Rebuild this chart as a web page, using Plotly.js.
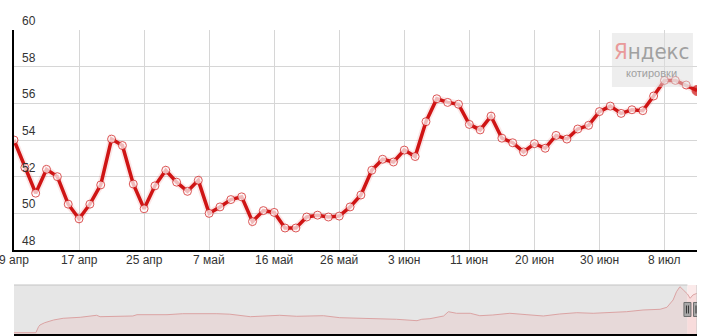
<!DOCTYPE html>
<html>
<head>
<meta charset="utf-8">
<script src="https://cdn.plot.ly/plotly-3.0.1.min.js"></script>
<style>html,body{margin:0;padding:0;background:#fff;}#chart{width:707px;height:336px;}</style>
</head>
<body>
<div id="chart"></div>
<script>
// Price series (trading days, 9 Apr .. ~11 Jul)
const prices = [54.0, 52.5, 51.1, 52.4, 52.0, 50.5, 49.7, 50.5, 51.55, 54.05,
  53.7, 51.6, 50.25, 51.5, 52.35, 51.7, 51.2, 51.8, 50.0, 50.35,
  50.75, 50.9, 49.55, 50.15, 50.05, 49.2, 49.2, 49.8, 49.9, 49.8,
  49.85, 50.35, 51.0, 52.35, 52.95, 52.8, 53.45, 53.1, 55.0, 56.25,
  56.05, 55.95, 54.85, 54.55, 55.3, 54.1, 53.85, 53.35, 53.8, 53.55,
  54.25, 54.05, 54.6, 54.8, 55.55, 55.85, 55.45, 55.65, 55.6, 56.4,
  57.25, 57.25, 57.0, 56.7];
// x-axis tick labels (every 6th trading day)
const tickIndex = [0, 6, 12, 18, 24, 30, 36, 42, 48, 54, 60];
const tickLabels = ['9 апр', '17 апр', '25 апр', '7 май', '16 май', '26 май',
  '3 июн', '11 июн', '20 июн', '30 июн', '8 июл'];
const yTicks = [48, 50, 52, 54, 56, 58, 60];

// Navigator: whole history (position in % of history, relative level)
const navPos = [0, 3.2, 3.6, 3.8, 4.5, 5.8, 7.2, 9.7, 12.1, 12.6, 17.4, 18.0, 22.4,
  24.7, 29.7, 31.6, 34.6, 36.0, 38.9, 41.4, 45.3, 47.7, 52.1, 56.0, 59.0, 59.7,
  60.9, 62.9, 63.6, 64.8, 66.8, 68.2, 70.1, 72.6, 75.1, 77.5, 79.9, 82.4, 84.8,
  87.3, 89.7, 92.1, 94.6, 95.6, 96.5, 97.0, 97.5, 98.0, 98.6, 99.0, 99.4, 100];
const navLevel = [1.3, 1.3, 7.3, 9, 11.3, 14, 15.7, 16.7, 18.7, 17.3, 18, 19.3, 19.3,
  20.3, 20.3, 19.8, 17.3, 18, 18.7, 17.7, 18.3, 16.3, 15.7, 14.7, 13.3, 14.7,
  15.3, 18, 22.3, 20.7, 20.7, 18.3, 19, 20.7, 19.3, 18, 20, 21.3, 20.7,
  21.3, 22.3, 24, 24.7, 26.7, 34, 42.3, 47.3, 44, 40, 35.7, 39, 40.7];
const navWindow = [98.6, 100];

const idx = prices.map((_, i) => i);
const last = prices.length - 1;
const RED = '#cf1414';
const FONT = 'Liberation Sans, Arial, sans-serif';

const traces = [
  { x: idx, y: prices, mode: 'lines', type: 'scatter',
    line: { color: 'rgba(225,60,60,0.12)', width: 7 }, hoverinfo: 'skip' },
  { x: idx, y: prices, mode: 'lines+markers', type: 'scatter',
    line: { color: RED, width: 3.5 },
    marker: { symbol: 'circle',
      size: prices.map((_, i) => i === last ? 10 : 8),
      color: prices.map((_, i) => i === last ? RED : '#ffffff'),
      line: { color: RED, width: 1 } } },
  { x: navPos, y: navLevel, xaxis: 'x2', yaxis: 'y2', mode: 'lines', type: 'scatter',
    fill: 'tozeroy', fillcolor: 'rgba(235,175,175,0.22)',
    line: { color: '#dba3a3', width: 1 } }
];

const handle = (xc) => [
  { type: 'rect', xref: 'x2', yref: 'y2 domain', xsizemode: 'pixel', ysizemode: 'pixel',
    xanchor: xc, yanchor: 0.5, x0: -3.5, x1: 3.5, y0: -7, y1: 7,
    fillcolor: '#a8a8a8', line: { color: '#6e6e6e', width: 1 } },
  { type: 'line', xref: 'x2', yref: 'y2 domain', xsizemode: 'pixel', ysizemode: 'pixel',
    xanchor: xc, yanchor: 0.5, x0: -1, x1: -1, y0: -4, y1: 4, line: { color: '#333', width: 1 } },
  { type: 'line', xref: 'x2', yref: 'y2 domain', xsizemode: 'pixel', ysizemode: 'pixel',
    xanchor: xc, yanchor: 0.5, x0: 1, x1: 1, y0: -4, y1: 4, line: { color: '#333', width: 1 } }
];

const tickFont = { family: FONT, size: 12, color: '#333' };
const xLabelAnns = tickIndex.map((v, k) => ({
  xref: 'x', yref: 'y', x: v, y: 48, text: tickLabels[k], showarrow: false,
  xanchor: 'center', yanchor: 'top', yshift: -1, font: tickFont }));
const yLabelAnns = yTicks.map(v => ({
  xref: 'paper', yref: 'y', x: 0, y: v, text: String(v), showarrow: false,
  xanchor: 'left', yanchor: 'bottom', xshift: 6, yshift: 0, font: tickFont }));

const layout = {
  width: 707, height: 336,
  margin: { l: 14, r: 10, t: 30, b: 2, pad: 0 },
  paper_bgcolor: '#ffffff', plot_bgcolor: '#ffffff',
  showlegend: false,
  font: { family: FONT, size: 12, color: '#333' },
  xaxis: { domain: [0, 1], anchor: 'y', range: [0, last],
    tickmode: 'array', tickvals: tickIndex.concat([last]),
    showticklabels: false, ticks: '', showgrid: true, gridcolor: '#d6d6d6', gridwidth: 1,
    showline: true, linecolor: '#000', linewidth: 2, zeroline: false },
  yaxis: { domain: [0.2763, 1], anchor: 'x', range: [48, 60],
    tickmode: 'array', tickvals: yTicks, ticks: '', showticklabels: false,
    showgrid: true, gridcolor: '#d6d6d6', gridwidth: 1,
    showline: true, linecolor: '#000', linewidth: 2, zeroline: false },
  xaxis2: { domain: [0, 1], anchor: 'y2', range: [0, 100],
    showgrid: false, showticklabels: false, ticks: '', zeroline: false,
    showline: true, linecolor: '#000', linewidth: 2 },
  yaxis2: { domain: [0, 0.1612], anchor: 'x2', range: [0, 49],
    showgrid: false, showticklabels: false, ticks: '', zeroline: false, showline: false },
  shapes: [
    { type: 'rect', xref: 'x2', yref: 'y2 domain', x0: 0, x1: navWindow[0], y0: 0, y1: 1,
      fillcolor: '#e6e6e6', line: { width: 0 }, layer: 'below' },
    { type: 'rect', xref: 'x2', yref: 'y2 domain', x0: navWindow[0], x1: navWindow[1], y0: 0, y1: 1,
      fillcolor: '#fbeaea', line: { width: 0 }, layer: 'below' },
    { type: 'line', xref: 'x2', yref: 'y2 domain', x0: 0, x1: navWindow[0], y0: 1, y1: 1,
      line: { color: '#c4c4c4', width: 1 } },
    { type: 'line', xref: 'x2', yref: 'y2 domain', x0: navWindow[1], x1: navWindow[1], y0: 0, y1: 1,
      line: { color: '#c4c4c4', width: 1 } },
    { type: 'rect', xref: 'paper', yref: 'paper', x0: 0.8755, x1: 0.994, y0: 0.8125, y1: 0.99,
      fillcolor: 'rgba(222,222,222,0.5)', line: { width: 0 } }
  ].concat(handle(navWindow[0])).concat(handle(navWindow[1])),
  annotations: xLabelAnns.concat(yLabelAnns).concat([
    { xref: 'paper', yref: 'paper', x: 0.9337, y: 0.9286, showarrow: false,
      xanchor: 'center', yanchor: 'middle',
      text: '<span style="color:#e99a9a">Я</span>ндекс',
      font: { family: 'Liberation Sans Narrow, DejaVu Sans Condensed, Arial Narrow, sans-serif', size: 22, color: '#a0a0a0' } },
    { xref: 'paper', yref: 'paper', x: 0.9337, y: 0.857, showarrow: false,
      xanchor: 'center', yanchor: 'middle',
      text: 'котировки',
      font: { family: FONT, size: 11, color: '#a0a0a0' } }
  ])
};

Plotly.newPlot('chart', traces, layout, { staticPlot: true, displayModeBar: false });
</script>
</body>
</html>
